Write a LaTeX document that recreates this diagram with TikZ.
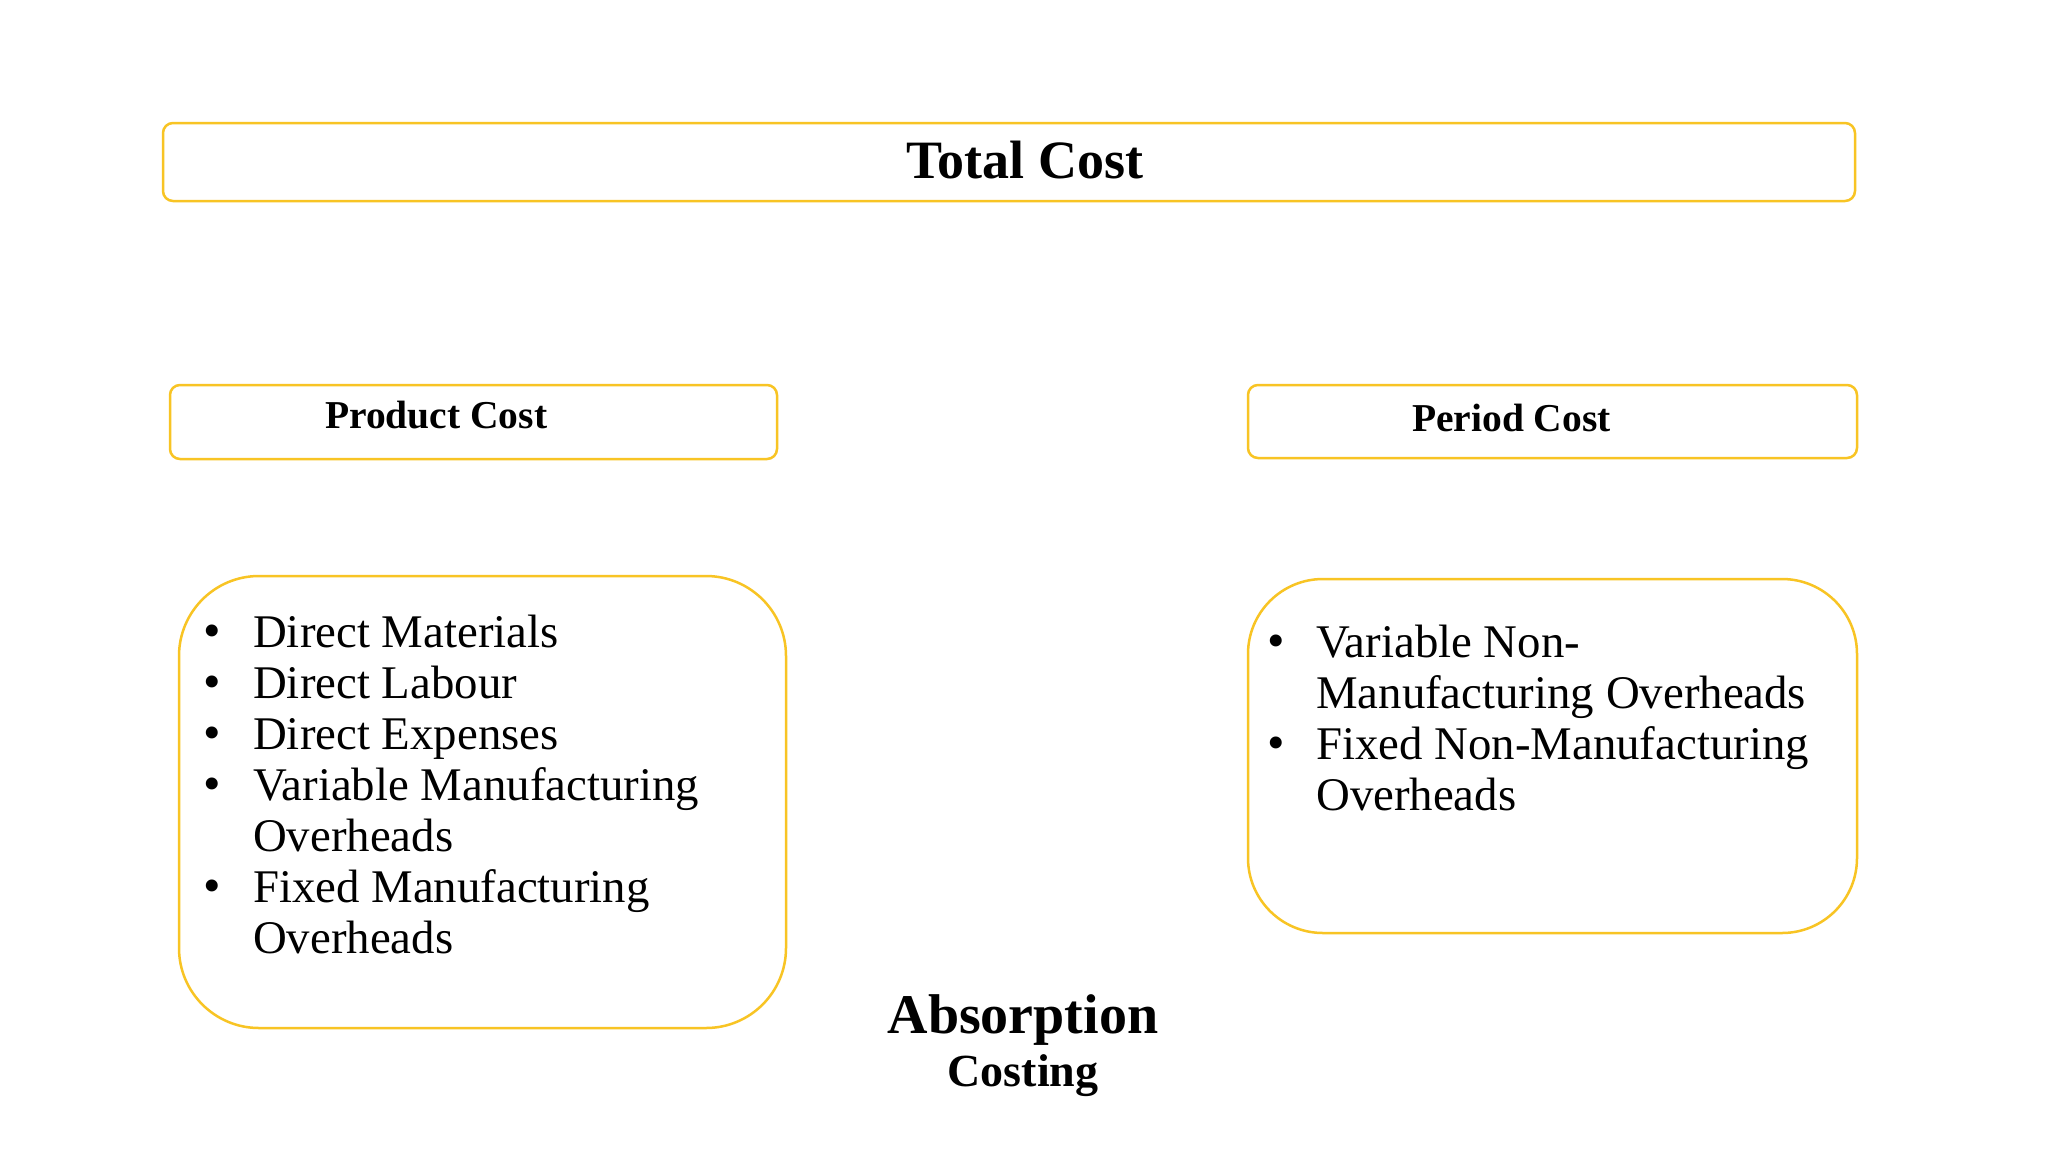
\documentclass[tikz,border=0pt]{standalone}
\usepackage{fontspec}
\setmainfont{Liberation Serif}
\definecolor{gold}{RGB}{248,196,36}
\tikzset{
  box/.style={draw=gold, line width=2.5pt, rounded corners=#1, inner sep=0pt, outer sep=0pt, fill=white},
  box/.default=10pt,
  head/.style={anchor=base west, inner sep=0pt, font=\bfseries\fontsize{39.5}{48}\selectfont},
  item/.style={anchor=base west, inner sep=0pt, font=\fontsize{46.8}{51}\selectfont},
  dot/.style={anchor=base, inner sep=0pt, font=\fontsize{50}{51}\selectfont},
}
\begin{document}
\begin{tikzpicture}[x=1pt,y=-1pt]
\useasboundingbox (0,0) rectangle (2048,1152);
\fill[white] (0,0) rectangle (2048,1152);

% boxes
\node[box, minimum width=1692pt, minimum height=78pt] (total) at (1009,162) {};
\node[box, minimum width=607pt, minimum height=74pt] (product) at (473.5,422) {};
\node[box, minimum width=609pt, minimum height=73pt] (period) at (1552.5,421.5) {};
\node[box=80pt, minimum width=607pt, minimum height=452pt] (left) at (482.5,802) {};
\node[box=75pt, minimum width=609pt, minimum height=354pt] (right) at (1552.5,756) {};

% titles
\node[anchor=base, inner sep=0pt, font=\bfseries\fontsize{54}{60}\selectfont] (ttotal) at (1025,178) {Total Cost};
\node[head] (tproduct) at (325,428) {Product Cost};
\node[head] (tperiod) at (1412,431) {Period Cost};

% left list
\foreach \y/\t/\b [count=\i] in {647/Direct Materials/1, 698/Direct Labour/1, 749/Direct Expenses/1, 800/Variable Manufacturing/1, 851/Overheads/0, 902/Fixed Manufacturing/1, 953/Overheads/0}{
  \node[item] (L\i) at (253,\y) {\t};
  \ifnum\b=1 \node[dot] (Lb\i) at (212,\y) {•}; \fi
}

% right list
\foreach \y/\t/\b [count=\i] in {657/Variable Non-/1, 708/Manufacturing Overheads/0, 759/Fixed Non-Manufacturing/1, 810/Overheads/0}{
  \node[item] (R\i) at (1316,\y) {\t};
  \ifnum\b=1 \node[dot] (Rb\i) at (1276,\y) {•}; \fi
}

% bottom label
\node[anchor=base, inner sep=0pt, font=\bfseries\fontsize{56}{60}\selectfont] (abs) at (1023,1033) {Absorption};
\node[anchor=base, inner sep=0pt, font=\bfseries\fontsize{46}{50}\selectfont] (cost) at (1023,1086) {Costing};
\end{tikzpicture}
\end{document}
